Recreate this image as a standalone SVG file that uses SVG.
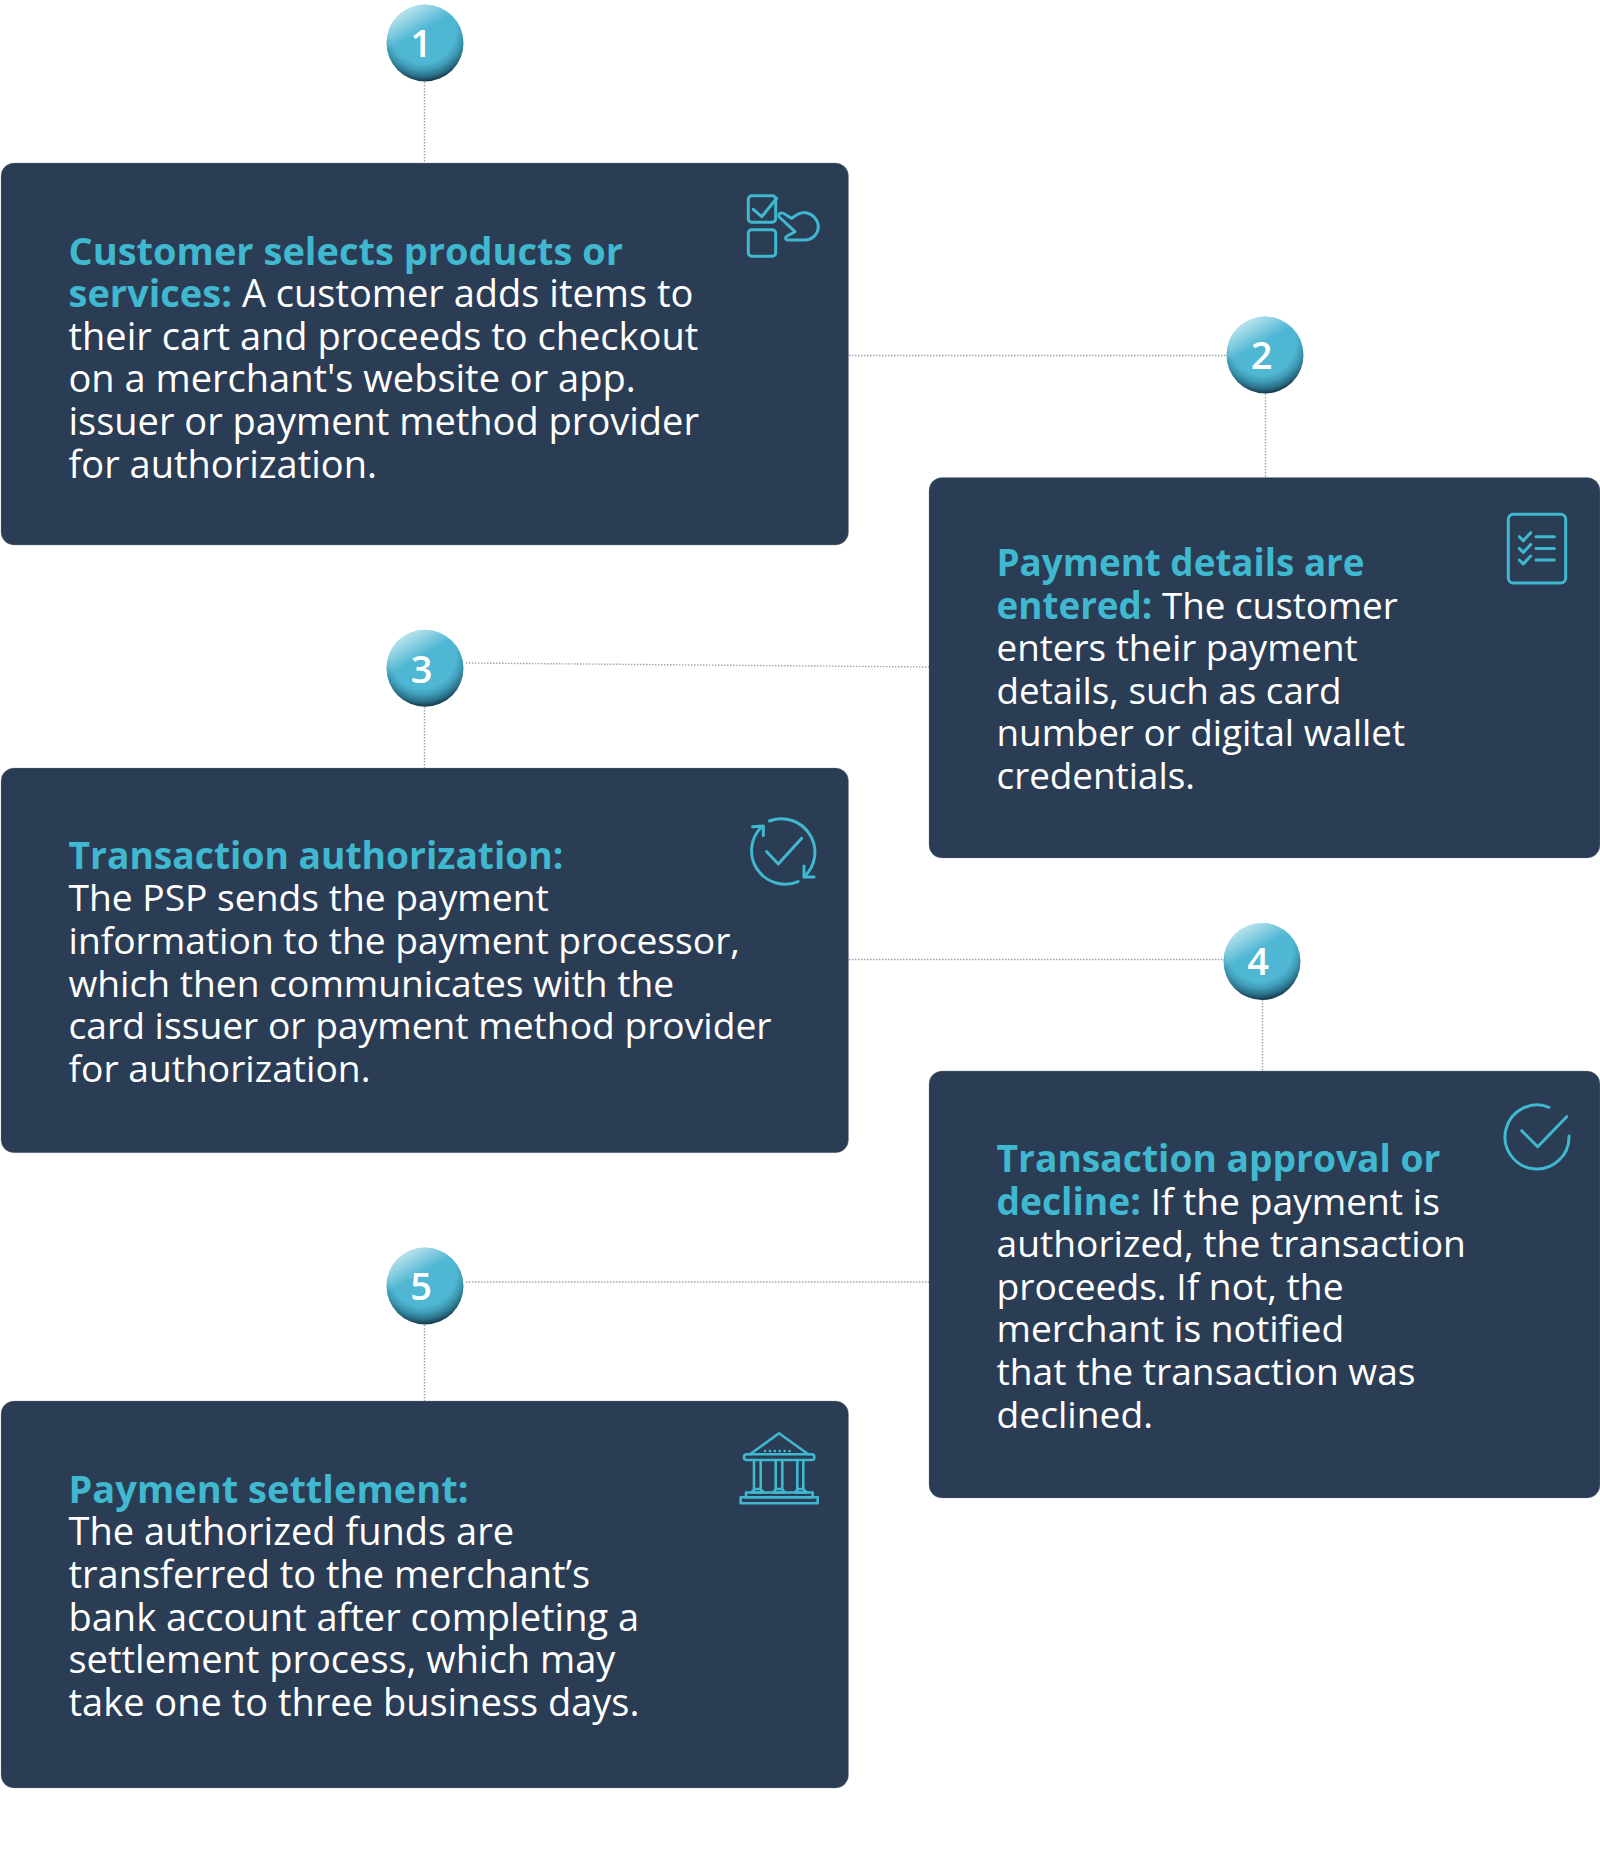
<svg xmlns="http://www.w3.org/2000/svg" width="1600" height="1876" viewBox="0 0 1600 1876">
<style>
.box{fill:#2b3d55;stroke:#7f8b9a;stroke-opacity:.45;stroke-width:.7}
.t{font-family:"Open Sans","Liberation Sans",sans-serif;font-size:38px;fill:#fff}
.t2{font-size:36.800px}
.t3{font-size:37.200px}
.b{font-weight:700;fill:#3fb8d0}
.n{font-family:"Open Sans","Liberation Sans",sans-serif;font-size:38px;font-weight:600;fill:#fff;text-anchor:middle}
.c{fill:none;stroke:#a0a4aa;stroke-width:1.4;stroke-dasharray:1.5 1.5}
.i{fill:none;stroke:#3fb8d0;stroke-width:3;stroke-linecap:round;stroke-linejoin:round}
</style>
<defs>
<radialGradient id="ball" cx="0.47" cy="0.33" r="0.7">
<stop offset="0" stop-color="#4fb7d3"/><stop offset="0.62" stop-color="#4fb7d3"/><stop offset="0.74" stop-color="#3f9cb6"/><stop offset="0.86" stop-color="#2a6f87"/><stop offset="0.96" stop-color="#163547"/>
</radialGradient>
<linearGradient id="shine" x1="0.25" y1="0" x2="0.45" y2="0.35">
<stop offset="0" stop-color="#fff" stop-opacity="0.7"/><stop offset="1" stop-color="#fff" stop-opacity="0"/>
</linearGradient>
<g id="sphere"><circle r="38.500" fill="url(#ball)"/><circle r="38.500" fill="url(#shine)"/></g>
</defs>
<rect width="1600" height="1876" fill="#fff"/>
<g id="connectors">
<path class="c" d="M424.500 82V163"/>
<path class="c" d="M849 355.500H1228M1265.500 394V478"/>
<path class="c" d="M466 663L929 667M424.500 707V768"/>
<path class="c" d="M849 959.500H1225M1262.500 1000V1071"/>
<path class="c" d="M466 1282H929M424.500 1325V1401"/>
</g>
<g id="step1">
<use href="#sphere" x="425" y="43"/><text class="n" x="421" y="57">1</text>
<rect class="box" x="1" y="163" width="847.500" height="382" rx="13"/>
<text class="t" x="68.500"><tspan class="b" x="68.500" y="264.500">Customer selects products or</tspan><tspan class="b" x="68.500" y="307.100">services:</tspan><tspan> A customer adds items to</tspan><tspan x="68.500" y="349.700">their cart and proceeds to checkout</tspan><tspan x="68.500" y="392.300">on a merchant's website or app.</tspan><tspan x="68.500" y="434.900">issuer or payment method provider</tspan><tspan x="68.500" y="477.500">for authorization.</tspan></text>
<g class="i">
<rect x="748.300" y="195.700" width="27.400" height="26.600" rx="3.500"/><rect x="748.300" y="229.700" width="27.400" height="26.600" rx="3.500"/>
<path d="M753.300 209.300L761.700 216.700L776.700 198.300"/>
<path d="M780 213.300C783 211 788 217 791.700 218.300C796 215 801 212 806 212.700C813 214 818.300 220 818.300 226.700C818.300 234 812 240 805 240H788C785 240 785 237 787 236L795 231.700L779.300 217C778.500 216 779 214 780 213.300Z"/>
</g>
</g>
<g id="step2">
<use href="#sphere" x="1265" y="355"/><text class="n" x="1261.500" y="369">2</text>
<rect class="box" x="929" y="477.500" width="671" height="380.500" rx="13"/>
<text class="t t2"><tspan class="b" x="996.500" y="576">Payment details are</tspan><tspan class="b" x="996.500" y="618.600">entered:</tspan><tspan> The customer</tspan><tspan x="996.500" y="661.200">enters their payment</tspan><tspan x="996.500" y="703.800">details, such as card</tspan><tspan x="996.500" y="746.400">number or digital wallet</tspan><tspan x="996.500" y="789">credentials.</tspan></text>
<g class="i">
<rect x="1508.300" y="514.300" width="57.400" height="68.700" rx="5"/>
<path d="M1519.300 536.700L1523.300 540.700L1530.700 532.700M1519.300 548.400L1523.300 552.400L1530.700 544.400M1519.300 560L1523.300 564L1530.700 556M1536 536.700H1554.300M1536 548.400H1554.300M1536 560H1554.300"/>
</g>
</g>
<g id="step3">
<use href="#sphere" x="425" y="668.300"/><text class="n" x="421.500" y="682.700">3</text>
<rect class="box" x="1" y="768" width="847.500" height="384.700" rx="13"/>
<text class="t t3"><tspan class="b" x="68.500" y="868.700">Transaction authorization:</tspan><tspan x="68.500" y="911.300">The PSP sends the payment</tspan><tspan x="68.500" y="953.900">information to the payment processor,</tspan><tspan x="68.500" y="996.500">which then communicates with the</tspan><tspan x="68.500" y="1039.100">card issuer or payment method provider</tspan><tspan x="68.500" y="1081.700">for authorization.</tspan></text>
<g class="i">
<path d="M769.400 821A33.500 33.500 0 0 1 804 877M752.500 826.700L763.300 826L763.300 835.500M804 866V877H814"/>
<path d="M798 881.600A33.500 33.500 0 0 1 761.700 826.700"/>
<path d="M766.700 851.700L778.300 864L801.700 838.300"/>
</g>
</g>
<g id="step4">
<use href="#sphere" x="1262" y="961.500"/><text class="n" x="1258" y="975">4</text>
<rect class="box" x="929" y="1071" width="671" height="427" rx="13"/>
<text class="t t3"><tspan class="b" x="996.500" y="1172">Transaction approval or</tspan><tspan class="b" x="996.500" y="1214.600">decline:</tspan><tspan> If the payment is</tspan><tspan x="996.500" y="1257.200">authorized, the transaction</tspan><tspan x="996.500" y="1299.800">proceeds. If not, the</tspan><tspan x="996.500" y="1342.400">merchant is notified</tspan><tspan x="996.500" y="1385">that the transaction was</tspan><tspan x="996.500" y="1427.600">declined.</tspan></text>
<g class="i">
<path d="M1549 1107.300A32 32 0 1 0 1569 1136"/>
<path d="M1521.700 1130.700L1537.700 1146.700L1566.700 1116.700"/>
</g>
</g>
<g id="step5">
<use href="#sphere" x="425" y="1286"/><text class="n" x="421" y="1300">5</text>
<rect class="box" x="1" y="1401" width="847.500" height="387" rx="13"/>
<text class="t"><tspan class="b" x="68.500" y="1502.700">Payment settlement:</tspan><tspan x="68.500" y="1545.300">The authorized funds are</tspan><tspan x="68.500" y="1587.900">transferred to the merchant’s</tspan><tspan x="68.500" y="1630.500">bank account after completing a</tspan><tspan x="68.500" y="1673.100">settlement process, which may</tspan><tspan x="68.500" y="1715.700">take one to three business days.</tspan></text>
<g class="i" style="stroke-width:2.600">
<path d="M750 1454.300L779 1433.300L808.300 1454.300"/>
<rect x="744" y="1454.300" width="70.300" height="5.700" rx="2.800"/>
<path d="M754 1460V1489M760.700 1460V1489M775.700 1460V1489M782.300 1460V1489M797.300 1460V1489M803.300 1460V1489"/>
<path d="M751 1492.500L755 1489H760L764 1492.500ZM773 1492.500L776 1489H782L785 1492.500ZM795 1492.500L798 1489H803L807 1492.500Z"/>
<rect x="746" y="1492.500" width="66.700" height="4.800"/>
<rect x="740.700" y="1497.300" width="77" height="6"/>
<path d="M765 1451H794" stroke-dasharray="0.100 4.800"/>
</g>
</g>
</svg>
